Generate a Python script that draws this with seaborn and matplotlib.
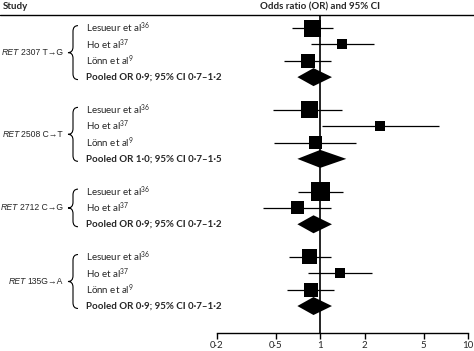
import numpy as np
import pandas as pd
import matplotlib.pyplot as plt
import seaborn as sns
import matplotlib.transforms as mtransforms
from matplotlib.path import Path
from matplotlib.patches import PathPatch
from matplotlib.lines import Line2D

# ---------------- data ----------------
variants = ["2307 T\u2192G", "2508 C\u2192T", "2712 C\u2192G", "135G\u2192A"]
studies = [["Lesueur", "Ho", "Lönn"],
           ["Lesueur", "Ho", "Lönn"],
           ["Lesueur", "Ho"],
           ["Lesueur", "Ho", "Lönn"]]
refs = {"Lesueur": "36", "Ho": "37", "Lönn": "9"}
study_or = [[0.89, 1.41, 0.83], [0.84, 2.53, 0.93], [1.00, 0.70], [0.85, 1.36, 0.86]]
study_lo = [[0.64, 0.86, 0.57], [0.48, 1.02, 0.49], [0.71, 0.41], [0.61, 0.83, 0.60]]
study_hi = [[1.22, 2.30, 1.19], [1.40, 6.40, 1.74], [1.43, 1.19], [1.19, 2.23, 1.24]]
study_weight = [[289, 100, 196], [289, 100, 169], [361, 169], [225, 100, 196]]
pooled_or = [0.9, 1.0, 0.9, 0.9]
pooled_lo = [0.7, 0.7, 0.7, 0.7]
pooled_hi = [1.2, 1.5, 1.2, 1.2]
xticks = [0.2, 0.5, 1, 2, 5, 10]
xticklabels = ["0\u00b72", "0\u00b75", "1", "2", "5", "10"]

# ---------------- build row table ----------------
rows = []
groups = []
r = 0
for g, name in enumerate(variants):
    start = r
    for s, st in enumerate(studies[g]):
        rows.append(dict(row=r, kind="study", label=st + " et al$^{" + refs[st] + "}$",
                         OR=study_or[g][s], lo=study_lo[g][s], hi=study_hi[g][s],
                         weight=study_weight[g][s]))
        r += 1
    lab = "Pooled OR {}; 95% CI {}\u2013{}".format(
        f"{pooled_or[g]:.1f}".replace(".", "\u00b7"),
        f"{pooled_lo[g]:.1f}".replace(".", "\u00b7"),
        f"{pooled_hi[g]:.1f}".replace(".", "\u00b7"))
    rows.append(dict(row=r, kind="pooled", label=lab, OR=pooled_or[g],
                     lo=pooled_lo[g], hi=pooled_hi[g], weight=np.nan))
    groups.append((name, start, r))
    r += 2
df = pd.DataFrame(rows)
st_df = df[df.kind == "study"]
pl_df = df[df.kind == "pooled"]

# ---------------- plot ----------------
sns.set_theme(style="white")
plt.rcParams['font.family'] = ['Lato', 'DejaVu Sans']
plt.rcParams['mathtext.fontset'] = 'custom'
plt.rcParams['mathtext.rm'] = 'Lato'
plt.rcParams['mathtext.it'] = 'Lato:italic'
plt.rcParams['mathtext.bf'] = 'Lato:bold'
fs = 7
grp_font = ['Liberation Sans Narrow', 'Liberation Sans', 'DejaVu Sans']

fig = plt.figure(figsize=(4.74, 3.51), dpi=100)
ax = fig.add_axes([217 / 474, 18 / 351, 251 / 474, 318 / 351])

ax.axvline(1, color="black", lw=1.2, zorder=1)
ax.hlines(st_df.row, st_df.lo, st_df.hi, color="black", lw=0.9, zorder=2)
sns.scatterplot(data=st_df, x="OR", y="row", size="weight", sizes=(52, 187),
                size_norm=(100, 361), marker="s", color="black", linewidth=0,
                legend=False, ax=ax, zorder=3)
for _, p in pl_df.iterrows():
    ax.fill([p.lo, p.OR, p.hi, p.OR], [p.row, p.row - 0.55, p.row, p.row + 0.55],
            color="black", lw=0, zorder=3)

ax.set_xscale("log")
ax.set_xlim(0.2, 10)
ax.set_ylim(18.65, -0.8)
ax.set_xticks(xticks)
ax.set_xticklabels(xticklabels, fontsize=fs)
ax.xaxis.set_minor_locator(plt.NullLocator())
ax.set_yticks([])
ax.set_xlabel("")
ax.set_ylabel("")
for sp in ["left", "right", "top"]:
    ax.spines[sp].set_visible(False)
ax.spines["bottom"].set_color("black")
ax.spines["bottom"].set_linewidth(1)
ax.tick_params(axis="x", direction="out", length=4, width=1, color="black", pad=2,
               bottom=True)

# text on the left
tr = mtransforms.blended_transform_factory(ax.transAxes, ax.transData)
x_lab = (86 - 217) / 251
x_grp = (63 - 217) / 251
for _, p in df.iterrows():
    ax.text(x_lab, p.row, p.label, transform=tr, ha="left", va="center", fontsize=fs,
            fontweight="bold" if p.kind == "pooled" else "normal")


def brace(y0, y1):
    xt = (68 - 217) / 251
    xm = (73 - 217) / 251
    xe = (78 - 217) / 251
    ym = (y0 + y1) / 2
    d = 0.35
    verts = [(xe, y0), (xm, y0), (xm, y0 + d),
             (xm, ym - d), (xm, ym), (xt, ym),
             (xm, ym), (xm, ym + d),
             (xm, y1 - d), (xm, y1), (xe, y1)]
    codes = [Path.MOVETO, Path.CURVE3, Path.CURVE3,
             Path.LINETO, Path.CURVE3, Path.CURVE3,
             Path.CURVE3, Path.CURVE3,
             Path.LINETO, Path.CURVE3, Path.CURVE3]
    ax.add_patch(PathPatch(Path(verts, codes), transform=tr, fill=False,
                           lw=0.8, color="black", clip_on=False))


gfs = 6.2
for name, start, end in groups:
    mid = (start + end) / 2
    t = ax.text(x_grp, mid, name, transform=tr, ha="right", va="center",
                fontsize=gfs, family=grp_font)
    ax.annotate("RET", xy=(0, 0.5), xycoords=t, xytext=(-1.2, 0),
                textcoords="offset points", ha="right", va="center",
                fontsize=gfs, style="italic", family=grp_font)
    brace(start - 0.15, end + 0.15)

# header
ax.text((3 - 217) / 251, 1.012, "Study", transform=ax.transAxes, ha="left",
        va="bottom", fontsize=fs, fontweight="bold")
ax.text(1, 1.012, "Odds ratio (OR) and 95% CI",
        transform=mtransforms.blended_transform_factory(ax.transData, ax.transAxes),
        ha="center", va="bottom", fontsize=fs, fontweight="bold")
fig.add_artist(Line2D([0, 1], [336 / 351, 336 / 351], transform=fig.transFigure,
                      color="black", lw=1))

plt.savefig("out.png", dpi=100)
